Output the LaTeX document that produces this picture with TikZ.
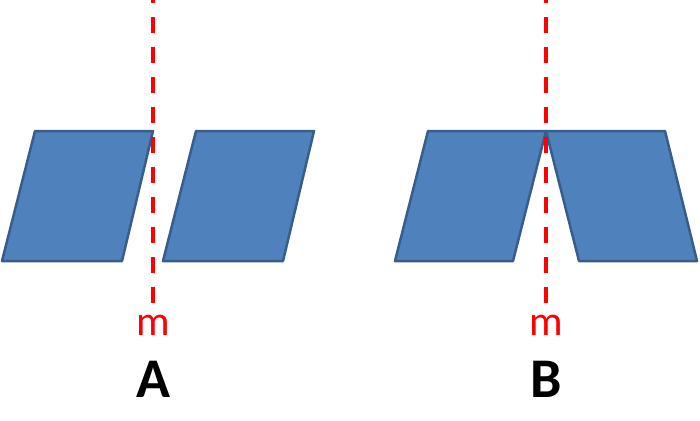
\documentclass[tikz,border=0pt]{standalone}
\usepackage{fontspec}
\setmainfont{Carlito}

\begin{document}
\begin{tikzpicture}[x=1pt,y=-1pt,
                    tile/.style={fill={rgb,255:red,79;green,129;blue,189},
                                 draw={rgb,255:red,56;green,93;blue,138},
                                 line width=2.5pt,line join=round},
                    axis/.style={red,line width=4pt,dash pattern=on 16pt off 14pt},
                    axis label/.style={red,anchor=base,font=\fontsize{42}{42}\selectfont},
                    panel label/.style={anchor=base,font=\fontsize{56}{56}\selectfont\bfseries}]
  \useasboundingbox (0,0) rectangle (700,420);
  % panel A
  \draw[tile] (2,261) -- (35,131) -- (153,131) -- (122,261) -- cycle;
  \draw[tile] (163,261) -- (196,131) -- (314,131) -- (283,261) -- cycle;
  \coordinate (mA) at (153,303);
  \draw[axis] (mA) -- (153,0);
  \node[axis label] (lmA) at (153,335) {m};
  \node[panel label] (A) at (153,397) {A};
  % panel B
  \draw[tile] (395,261) -- (428,131) -- (546,131) -- (513,261) -- cycle;
  \draw[tile] (697,261) -- (665,131) -- (546,131) -- (579,261) -- cycle;
  \coordinate (mB) at (546,303);
  \draw[axis] (mB) -- (546,0);
  \node[axis label] (lmB) at (546,335) {m};
  \node[panel label] (B) at (546,397) {B};
\end{tikzpicture}
\end{document}
